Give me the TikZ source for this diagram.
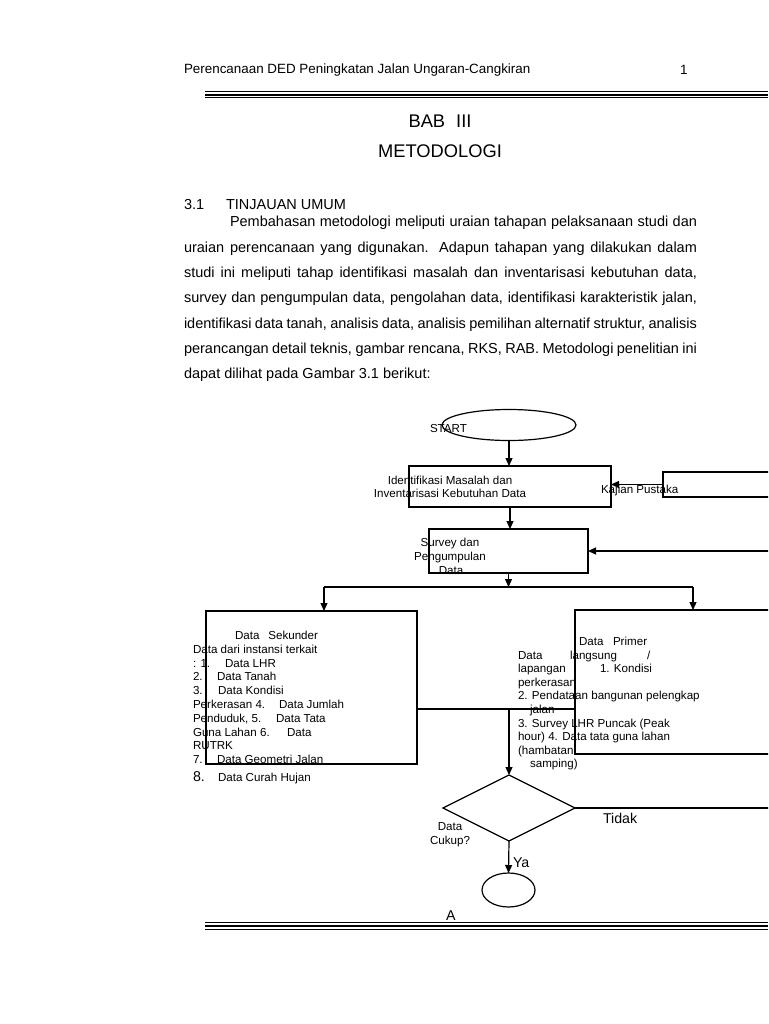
\documentclass[tikz,border=0pt]{standalone}
\usepackage{fontspec}
\setmainfont{Liberation Sans}
\usetikzlibrary{arrows.meta,shapes.geometric}
\begin{document}
\begin{tikzpicture}[x=1pt,y=-1pt,
  every node/.style={inner sep=0pt, outer sep=0pt},
  txt/.style={anchor=base west, font=\fontsize{11.6}{13.8}\selectfont},
  ctxt/.style={anchor=base, font=\fontsize{11.6}{13.8}\selectfont},
  bigtxt/.style={anchor=base west, font=\fontsize{14.2}{17}\selectfont},
  body/.style={anchor=base west, font=\fontsize{14.5}{17}\selectfont},
  conn/.style={line width=1.2pt},
  arr/.style={conn, -{Triangle[length=8pt,width=7pt]}},
  thickbox/.style={draw, line width=2pt, rectangle},
  thinbox/.style={draw, line width=1.2pt, rectangle},
  oval/.style={ellipse, draw, line width=1.2pt},
]
\useasboundingbox (0,0) rectangle (768,1024);
\fill[white] (0,0) rectangle (768,1024);
\clip (0,0) rectangle (768,1024);

% header
\node[anchor=base west, font=\fontsize{13.4}{16}\selectfont] (hdr) at (184,74) {Perencanaan DED Peningkatan Jalan Ungaran-Cangkiran};
\node[anchor=base west, font=\fontsize{13.4}{16}\selectfont] (pg) at (680,75) {1};
\draw[line width=1pt] (205,92) -- (768,92);
\draw[line width=2.2pt] (205,95) -- (768,95);
\draw[line width=1pt] (205,98) -- (768,98);

% title
\node[anchor=base, font=\fontsize{18.3}{22}\selectfont] (bab) at (440,127.6) {BAB\hspace{0.6em}III};
\node[anchor=base, font=\fontsize{18.3}{22}\selectfont] (meto) at (440,157.6) {METODOLOGI};

% heading and paragraph
\node[body] (secnum) at (184,209.2) {3.1};
\node[body] (sectitle) at (226,209.2) {TINJAUAN UMUM};
\node[body] (p1) at (230,226.2) {\makebox[467pt][s]{Pembahasan metodologi meliputi uraian tahapan pelaksanaan studi dan}};
\node[body] (p2) at (184,252.2) {\makebox[513pt][s]{uraian perencanaan yang digunakan. Adapun tahapan yang dilakukan dalam}};
\node[body] (p3) at (184,277.2) {\makebox[513pt][s]{studi ini meliputi tahap identifikasi masalah dan inventarisasi kebutuhan data,}};
\node[body] (p4) at (184,302.2) {\makebox[513pt][s]{survey dan pengumpulan data, pengolahan data, identifikasi karakteristik jalan,}};
\node[body] (p5) at (184,328.2) {\makebox[513pt][s]{identifikasi data tanah, analisis data, analisis pemilihan alternatif struktur, analisis}};
\node[body] (p6) at (184,353.2) {\makebox[513pt][s]{perancangan detail teknis, gambar rencana, RKS, RAB. Metodologi penelitian ini}};
\node[body] (p7) at (184,378.2) {dapat dilihat pada Gambar 3.1 berikut:};

% flowchart shapes
\node[oval, minimum width=134, minimum height=31] (start) at (509,425) {};
\node[txt] (starttxt) at (430,432) {START};

\node[thickbox, minimum width=202, minimum height=41] (ident) at (510,486.5) {};
\node[ctxt] (identa) at (450,484) {Identifikasi Masalah dan};
\node[ctxt] (identb) at (450,497) {Inventarisasi Kebutuhan Data};

\node[thickbox, minimum width=130, minimum height=25, anchor=north west] (kajian) at (663,472) {};
\node[txt] (kajiantxt) at (601,493) {Kajian Pustaka};

\node[thinbox, minimum width=159, minimum height=44] (survey) at (508.5,551) {};
\node[ctxt] (surveya) at (450,546) {Survey dan};
\node[ctxt] (surveyb) at (450,560) {Pengumpulan};
\node[ctxt] (surveyc) at (451,574) {Data};
\coordinate (rin) at (772,551);

\coordinate (sl) at (324,587);
\coordinate (sr) at (693,587);

\node[thickbox, minimum width=211, minimum height=153, anchor=north west] (sek) at (206,611) {};
\node[thickbox, minimum width=210, minimum height=144, anchor=north west] (prim) at (575,610) {};

% Data Sekunder text
\node[txt] (s1) at (235,639.5) {\makebox[83pt][s]{Data Sekunder}};
\node[txt] (s2) at (193,653.3) {Data dari instansi terkait};
\node[txt] (s3a) at (193,667.1) {: 1.};
\node[txt] (s3b) at (225,667.1) {Data LHR};
\node[txt] (s4a) at (193,680.9) {2.};
\node[txt] (s4b) at (217,680.9) {Data Tanah};
\node[txt] (s5a) at (193,694.7) {3.};
\node[txt] (s5b) at (218,694.7) {Data Kondisi};
\node[txt] (s6a) at (193,708.5) {Perkerasan 4.};
\node[txt] (s6b) at (279,708.5) {Data Jumlah};
\node[txt] (s7a) at (193,722.3) {Penduduk, 5.};
\node[txt] (s7b) at (276,722.3) {Data Tata};
\node[txt] (s8a) at (193,736.1) {Guna Lahan 6.};
\node[txt] (s8b) at (287,736.1) {Data};
\node[txt] (s9) at (193,749.9) {RUTRK};
\node[txt] (s10a) at (193,763.7) {7.};
\node[txt] (s10b) at (217,763.7) {Data Geometri Jalan};
\node[bigtxt] (s11a) at (193,781) {8.};
\node[txt] (s11b) at (218,781) {Data Curah Hujan};

% Data Primer text
\node[txt] (r1a) at (579,645.5) {Data};
\node[txt] (r1b) at (613,645.5) {Primer};
\node[txt] (r2a) at (518,659.1) {Data};
\node[txt] (r2b) at (570,659.1) {langsung};
\node[txt] (r2c) at (647,659.1) {/};
\node[txt] (r3a) at (518,672.7) {lapangan};
\node[txt] (r3b) at (600,672.7) {1. Kondisi};
\node[txt] (r4) at (518,686.3) {perkerasan};
\node[txt] (r5) at (518,699.9) {2. Pendataan bangunan pelengkap};
\node[txt] (r6) at (530,713.5) {jalan};
\node[txt] (r7) at (518,727.1) {3. Survey LHR Puncak (Peak};
\node[txt] (r8) at (518,740.7) {hour) 4. Data tata guna lahan};
\node[txt] (r9) at (518,754.3) {(hambatan};
\node[txt] (r10) at (530,767.9) {samping)};

\coordinate (j) at (509,709);

\node[diamond, draw, line width=1.3pt, minimum width=132, minimum height=66] (dec) at (509,808) {};
\node[ctxt] (deca) at (450,830) {Data};
\node[ctxt] (decb) at (450,844) {Cukup?};
\coordinate (tidakend) at (772,808);
\node[bigtxt] (tidak) at (603,823.6) {Tidak};

\node[oval, minimum width=53, minimum height=34] (endc) at (508.5,890) {};
\node[bigtxt] (ya) at (513,867) {Ya};
\node[bigtxt] (atxt) at (446,920) {A};

% connectors
\draw[arr] (start.south) -- (start.south |- ident.north);
\draw[arr] (kajian.west) -- (kajian.west -| ident.east);
\draw[arr] (ident.south) -- (ident.south |- survey.north);
\draw[arr] (rin) -- (survey.east);
\draw[arr] (survey.south) -- (survey.south |- sl);
\draw[conn] (sl) -- (sr);
\draw[arr] (sl) -- (sl |- sek.north);
\draw[arr] (sr) -- (sr |- prim.north);
\draw[conn] (j -| sek.east) -- (j -| prim.west);
\draw[arr] (j) -- (dec.north);
\draw[conn] (dec.east) -- (tidakend);
\draw[arr] (dec.south) -- (endc.north);

% bottom rule
\draw[line width=1pt] (205,922.3) -- (768,922.3);
\draw[line width=2.6pt] (205,925.8) -- (768,925.8);
\draw[line width=1pt] (205,929.3) -- (768,929.3);
\end{tikzpicture}
\end{document}
